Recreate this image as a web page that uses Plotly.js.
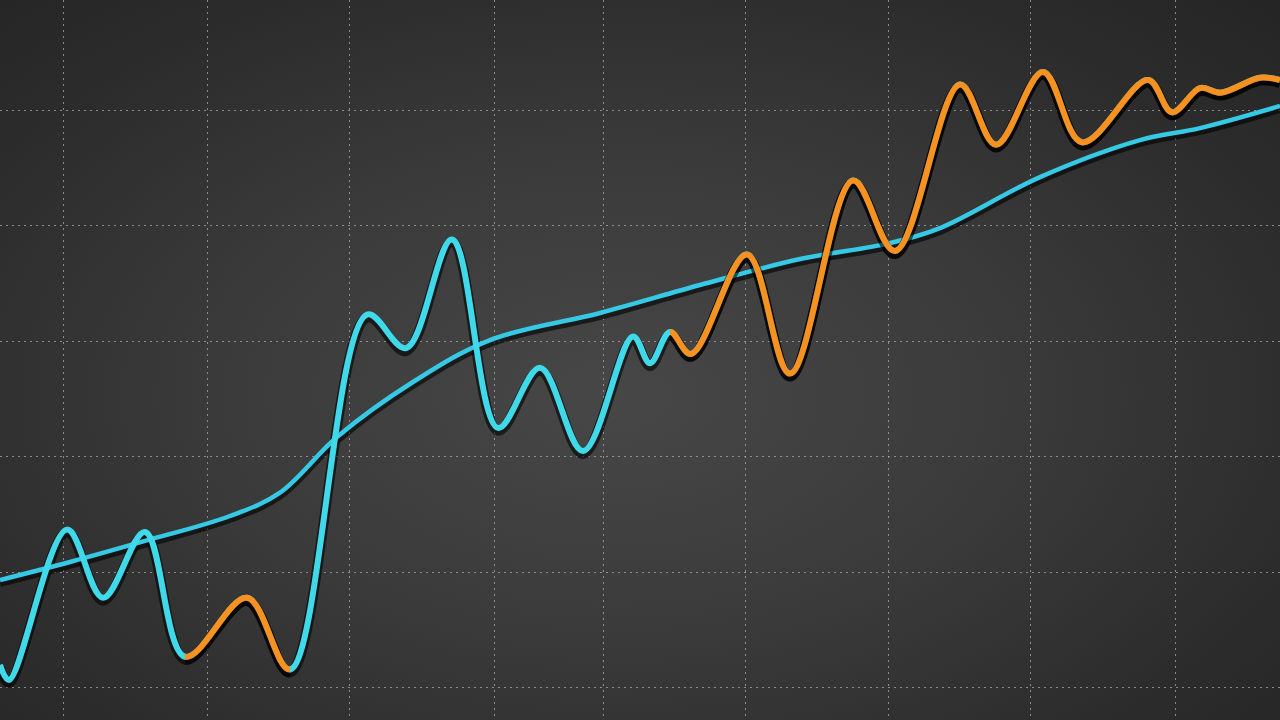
<!DOCTYPE html>
<html>
<head>
<meta charset="utf-8">
<script src="https://cdn.plot.ly/plotly-3.0.1.min.js"></script>
<style>
  html, body { margin: 0; padding: 0; width: 1280px; height: 720px; overflow: hidden; }
  body { background: radial-gradient(ellipse 75% 80% at 48% 55%, #474747 0%, #3b3b3b 40%, #2c2c2c 75%, #242424 100%); }
  #chart { width: 1280px; height: 720px; }
</style>
</head>
<body>
<div id="chart"></div>
<script>
// Oscillating series (one continuous curve)
const wave_x = [0, 0.9, 6.7, 10.3, 14.5, 18.5, 24.7, 29.0, 36.7, 40.6, 45.2, 49.8, 54.0, 58.3, 63.3, 65.0, 67.0, 69.1, 74.7, 79.0, 85.3, 89.5, 96.0, 99.6, 104.3, 108.2, 114.8, 117.2, 120.0, 122.1, 126.0, 128.0];
const wave_y = [1.20, 1.07, 2.37, 1.78, 2.35, 1.27, 1.78, 1.16, 4.23, 3.94, 4.88, 3.25, 3.77, 3.05, 4.04, 3.81, 4.08, 3.89, 4.75, 3.72, 5.39, 4.78, 6.22, 5.70, 6.33, 5.72, 6.26, 5.98, 6.19, 6.15, 6.28, 6.26];

// x-intervals where the oscillating series is drawn orange
const orange_from = [18.5, 67.0];
const orange_to   = [29.0, 128.0];

// Smooth trend series
const trend_x = [0, 7, 14.5, 23, 28, 33.7, 41.3, 49, 60, 70, 80, 89, 94, 104, 114, 120, 128];
const trend_y = [1.934, 2.090, 2.272, 2.488, 2.690, 3.171, 3.647, 4.010, 4.244, 4.486, 4.711, 4.849, 4.979, 5.420, 5.740, 5.844, 6.035];

// Grid positions
const gridX = [6.3, 20.7, 34.9, 49.4, 60.3, 74.5, 88.8, 103.0, 117.5];
const gridY = [1, 2, 3, 4, 5, 6];

const X_RANGE = [0, 128];
const Y_RANGE = [0.723, 6.952];

const CYAN = '#3fd9ea';
const CYAN_TREND = '#36c9e6';
const ORANGE = '#f7911f';
const shadowShift = 0.025;

function shadow(xs, ys, w, ax) {
  return {
    x: xs, y: ys.map(v => v - shadowShift), mode: 'lines', type: 'scatter',
    xaxis: ax[0], yaxis: ax[1],
    line: { color: 'rgba(0,0,0,0.6)', width: w, shape: 'spline', smoothing: 1 },
    hoverinfo: 'skip', showlegend: false
  };
}
function line(xs, ys, c, w, ax) {
  return {
    x: xs, y: ys, mode: 'lines', type: 'scatter',
    xaxis: ax[0], yaxis: ax[1],
    line: { color: c, width: w, shape: 'spline', smoothing: 1 },
    hoverinfo: 'skip', showlegend: false
  };
}

const main = ['x', 'y'];
const traces = [
  shadow(wave_x, wave_y, 10, main),
  shadow(trend_x, trend_y, 8, main),
  line(trend_x, trend_y, CYAN_TREND, 4.5, main),
  line(wave_x, wave_y, CYAN, 6, main)
];

const hiddenAxis = { showticklabels: false, ticks: '', zeroline: false, showline: false, showgrid: false, fixedrange: true };

const layout = {
  width: 1280, height: 720,
  margin: { l: 0, r: 0, t: 0, b: 0, pad: 0 },
  paper_bgcolor: 'rgba(0,0,0,0)',
  plot_bgcolor: 'rgba(0,0,0,0)',
  showlegend: false,
  xaxis: {
    range: X_RANGE, domain: [0, 1], showticklabels: false, ticks: '', zeroline: false, showline: false,
    tickmode: 'array', tickvals: gridX, showgrid: true,
    gridcolor: 'rgba(170,170,170,0.75)', gridwidth: 1, griddash: '2px,4px', fixedrange: true
  },
  yaxis: {
    range: Y_RANGE, domain: [0, 1], showticklabels: false, ticks: '', zeroline: false, showline: false,
    tickmode: 'array', tickvals: gridY, showgrid: true,
    gridcolor: 'rgba(170,170,170,0.75)', gridwidth: 1, griddash: '2px,4px', fixedrange: true
  }
};

// Orange parts: same curve, clipped to sub-plots covering only the orange x-intervals
orange_from.forEach((x0, i) => {
  const x1 = orange_to[i];
  const n = i + 2;
  const xa = 'x' + n, ya = 'y' + n;
  layout['xaxis' + n] = Object.assign({}, hiddenAxis, {
    range: [x0, x1],
    domain: [(x0 - X_RANGE[0]) / (X_RANGE[1] - X_RANGE[0]), (x1 - X_RANGE[0]) / (X_RANGE[1] - X_RANGE[0])],
    anchor: ya
  });
  layout['yaxis' + n] = Object.assign({}, hiddenAxis, { range: Y_RANGE, domain: [0, 1], anchor: xa });
  traces.push(shadow(wave_x, wave_y, 10, [xa, ya]));
  traces.push(line(wave_x, wave_y, ORANGE, 6, [xa, ya]));
});

Plotly.newPlot('chart', traces, layout, { staticPlot: true, displayModeBar: false });
</script>
</body>
</html>
